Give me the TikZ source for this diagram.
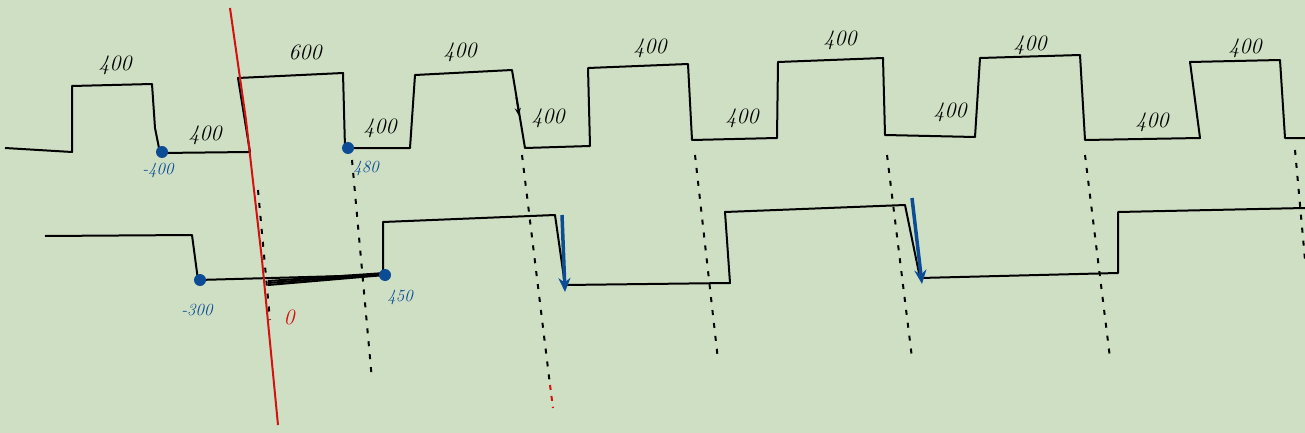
\documentclass[tikz,border=0pt]{standalone}
\usetikzlibrary{arrows.meta}
\definecolor{bg}{HTML}{CFDFC4}
\definecolor{pb}{HTML}{0B4C94}
\definecolor{pr}{HTML}{D41010}
\tikzset{wave/.style={line width=2pt,line join=round},
 dsh/.style={line width=2pt,dash pattern=on 5pt off 8pt},
 dot/.style={circle,fill=pb,inner sep=0pt,minimum size=12pt},
 lab/.style={font=\fontsize{22}{22}\selectfont\itshape},
 blab/.style={font=\fontsize{17}{17}\selectfont\itshape,text=pb}}
\begin{document}
\begin{tikzpicture}[x=1pt,y=-1pt]
\fill[bg] (0,0) rectangle (1305,433);
\useasboundingbox (0,0) rectangle (1305,433);
\draw[wave] (5,148)--(72,152)--(72,86)--(152,84)--(155,128)--(160,153)--(250,152)--(238,78)--(343,73)--(345,148)--(410,148)--(415,75)--(512,70)--(525,148)--(590,146)--(588,68)--(688,64)--(692,140)--(777,138)--(778,62)--(883,58)--(885,135)--(975,137)--(980,58)--(1080,55)--(1085,140)--(1200,138)--(1190,62)--(1280,60)--(1285,138)--(1305,138);
\draw[wave] (45,236)--(192,235)--(198,280)--(380,275);
\draw[wave] (383,275)--(383,222)--(555,215)--(565,285)--(730,283)--(725,212)--(905,205)--(920,278)--(1118,273)--(1118,212)--(1305,208);
\foreach \a/\b in {{258,190}/{270,320},{352,160}/{372,380},{522,155}/{550,385},{695,155}/{718,360},{887,155}/{912,358},{1085,155}/{1110,358},{1295,150}/{1305,260}}
  \draw[dsh] (\a)--(\b);
\draw[pr,line width=2pt,dash pattern=on 5pt off 6pt] (550,385)--(553,408);
\foreach \d in {0,2,4} \draw[line width=2pt] (268,{285-\d})--(385,{275-\d/2});
\draw[pr,line width=2pt] (230,8)--(246,120)--(262,260)--(278,425);
\node[dot] (d1) at (162,152) {};
\node[dot] (d2) at (348,148) {};
\node[dot] (d3) at (200,280) {};
\node[dot] (d4) at (385,275) {};
\draw[pb,line width=3.5pt,-{Stealth[length=14pt,width=12pt]}] (562,215)--(565,292);
\draw[pb,line width=3.5pt,-{Stealth[length=14pt,width=12pt]}] (912,198)--(922,284);
\draw[line width=1.2pt,-{Stealth[length=8pt]}] (516,97)--(519,116);
\foreach \p/\t in {{115,65}/400,{205,135}/400,{305,52}/600,{380,128}/400,{460,52}/400,{548,118}/400,{650,48}/400,{742,118}/400,{840,40}/400,{950,112}/400,{1030,45}/400,{1152,122}/400,{1245,48}/400}
  \node[lab] at (\p) {\t};
\node[blab] at (158,170) {-400};
\node[blab] at (366,168) {480};
\node[blab] at (197,310) {-300};
\node[blab] at (400,297) {450};
\node[lab,text=pr] at (289,317) {0};
\end{tikzpicture}
\end{document}
